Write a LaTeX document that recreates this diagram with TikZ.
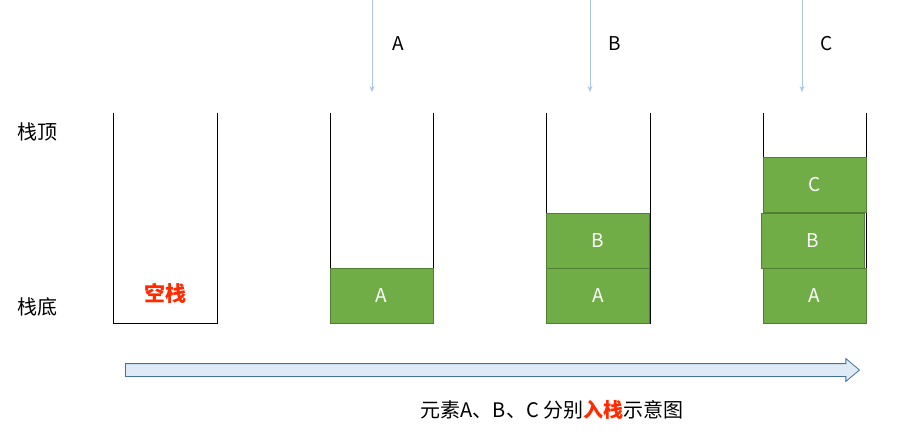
\documentclass[tikz,border=0pt]{standalone}
\usepackage{fontspec}
\setmainfont{Noto Sans CJK SC}
\usetikzlibrary{shapes.arrows,arrows.meta}
\definecolor{gfill}{HTML}{70AD47}
\definecolor{gline}{HTML}{507E32}
\definecolor{lblue}{HTML}{A9C6E8}
\definecolor{afill}{HTML}{DEEBF7}
\definecolor{aline}{HTML}{41719C}
\definecolor{redt}{HTML}{FF2A00}
\begin{document}
\begin{tikzpicture}[x=1pt,y=-1pt,
  wall/.style={draw=black,line width=0.8pt},
  elem/.style={draw=gline,fill=gfill,line width=0.8pt,minimum width=103pt,minimum height=55pt,text=white,font=\fontsize{19}{22}\selectfont,inner sep=0pt},
  pusharrow/.style={draw=lblue,line width=0.9pt,-{Stealth[length=6pt,width=5pt]}},
  lbl/.style={font=\fontsize{20}{24}\selectfont}]
\useasboundingbox (0,0) rectangle (917,440);
% containers
\foreach \l/\r in {113/217,330/433,546/650,763/866}{
  \draw[wall] (\l,113) -- (\l,323) -- (\r,323) -- (\r,113);
}
% elements
\node[elem] (a2) at (381.5,296) {A};
\node[elem] (a3) at (598,296) {A};
\node[elem] (b3) at (598,241) {B};
\node[elem] (a4) at (814.5,296) {A};
\node[elem] (b4) at (813,241) {B};
\node[elem] (c4) at (814.5,185) {C};
% push arrows
\coordinate (pa) at (372,0); \coordinate (pa2) at (372,92);
\coordinate (pb) at (590,0); \coordinate (pb2) at (590,92);
\coordinate (pc) at (802,0); \coordinate (pc2) at (802,92);
\draw[pusharrow] (pa) -- (pa2);
\draw[pusharrow] (pb) -- (pb2);
\draw[pusharrow] (pc) -- (pc2);
\node[lbl,font=\fontsize{19}{22}\selectfont] (la) at (398,44) {A};
\node[lbl,font=\fontsize{19}{22}\selectfont] (lb) at (615,44) {B};
\node[lbl,font=\fontsize{19}{22}\selectfont] (lc) at (827,44) {C};
% side labels
\node[lbl] (top) at (37,132) {栈顶};
\node[lbl] (bot) at (37,307) {栈底};
\node[lbl,text=redt,font=\fontsize{21}{24}\selectfont\bfseries] (empty) at (165,293) {空栈};
% big arrow
\node[single arrow,draw=aline,fill=afill,line width=0.8pt,minimum height=734pt,minimum width=22pt,single arrow head extend=5pt,single arrow tip angle=80,inner xsep=0pt,inner ysep=6pt,anchor=west] (big) at (125,370) {};
\node[lbl] (cap) at (552,410) {元素A、B、C 分别{\color{redt}\bfseries 入栈}示意图};
\end{tikzpicture}
\end{document}
